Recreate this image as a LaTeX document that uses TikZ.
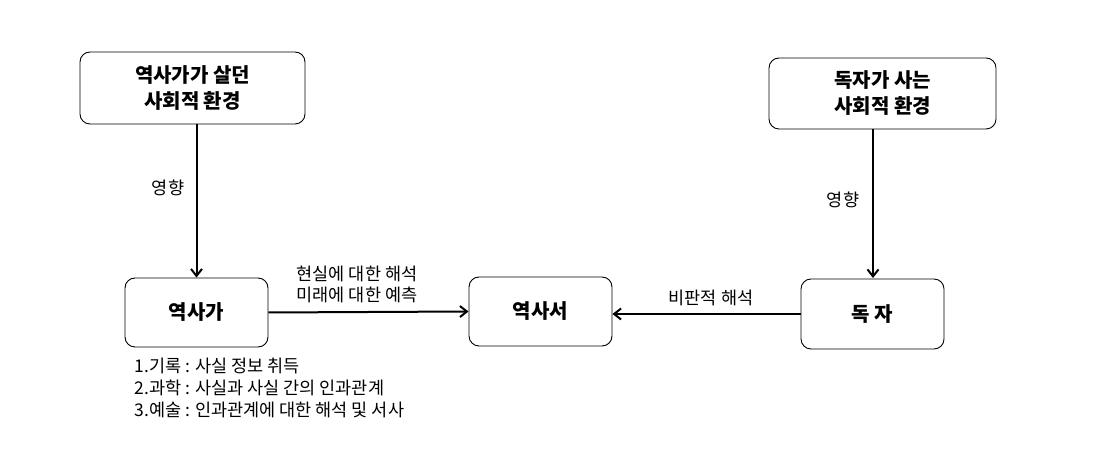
\documentclass[tikz,border=0pt]{standalone}
\usepackage{fontspec}
\setmainfont{Noto Sans CJK KR}
\usetikzlibrary{arrows.meta}
\begin{document}
\begin{tikzpicture}[x=1pt,y=1pt,
 box/.style={draw,rounded corners=10pt,line width=0.9pt,align=center,font=\fontsize{20}{26}\selectfont\bfseries,inner sep=0pt},
 arr/.style={line width=2pt,-{Straight Barb[length=7pt,width=11pt]}},
 lbl/.style={font=\fontsize{17.5}{21}\selectfont,align=left}]
\useasboundingbox (0,0) rectangle (1097,468);
\node[box,minimum width=225pt,minimum height=72pt] (e1) at (192.5,380) {역사가가 살던\\사회적 환경};
\node[box,minimum width=227pt,minimum height=71pt] (e2) at (882.5,374.5) {독자가 사는\\사회적 환경};
\node[box,minimum width=143pt,minimum height=69pt] (h) at (196.5,155.5) {역사가};
\node[box,minimum width=143pt,minimum height=69pt] (b) at (540.5,156.5) {역사서};
\node[box,minimum width=143pt,minimum height=70pt] (r) at (872.5,154) {독 자};
\draw[arr] (e1.south -| h.north) -- (h.north);
\draw[arr] (e2.south -| 873,0) -- (873,190);
\draw[arr] (h.east) -- (b.west);
\draw[arr] (r.west) -- (b.east |- r.west);
\node[lbl] at (168,280) {영향};
\node[lbl] at (843,268) {영향};
\node[lbl,align=left] at (357,184) {현실에 대한 해석\\미래에 대한 예측};
\node[lbl] at (711,170) {비판적 해석};
\node[lbl,anchor=north west,font=\fontsize{17.5}{22}\selectfont] at (131,114) {1.기록 : 사실 정보 취득\\2.과학 : 사실과 사실 간의 인과관계\\3.예술 : 인과관계에 대한 해석 및 서사};
\end{tikzpicture}
\end{document}
